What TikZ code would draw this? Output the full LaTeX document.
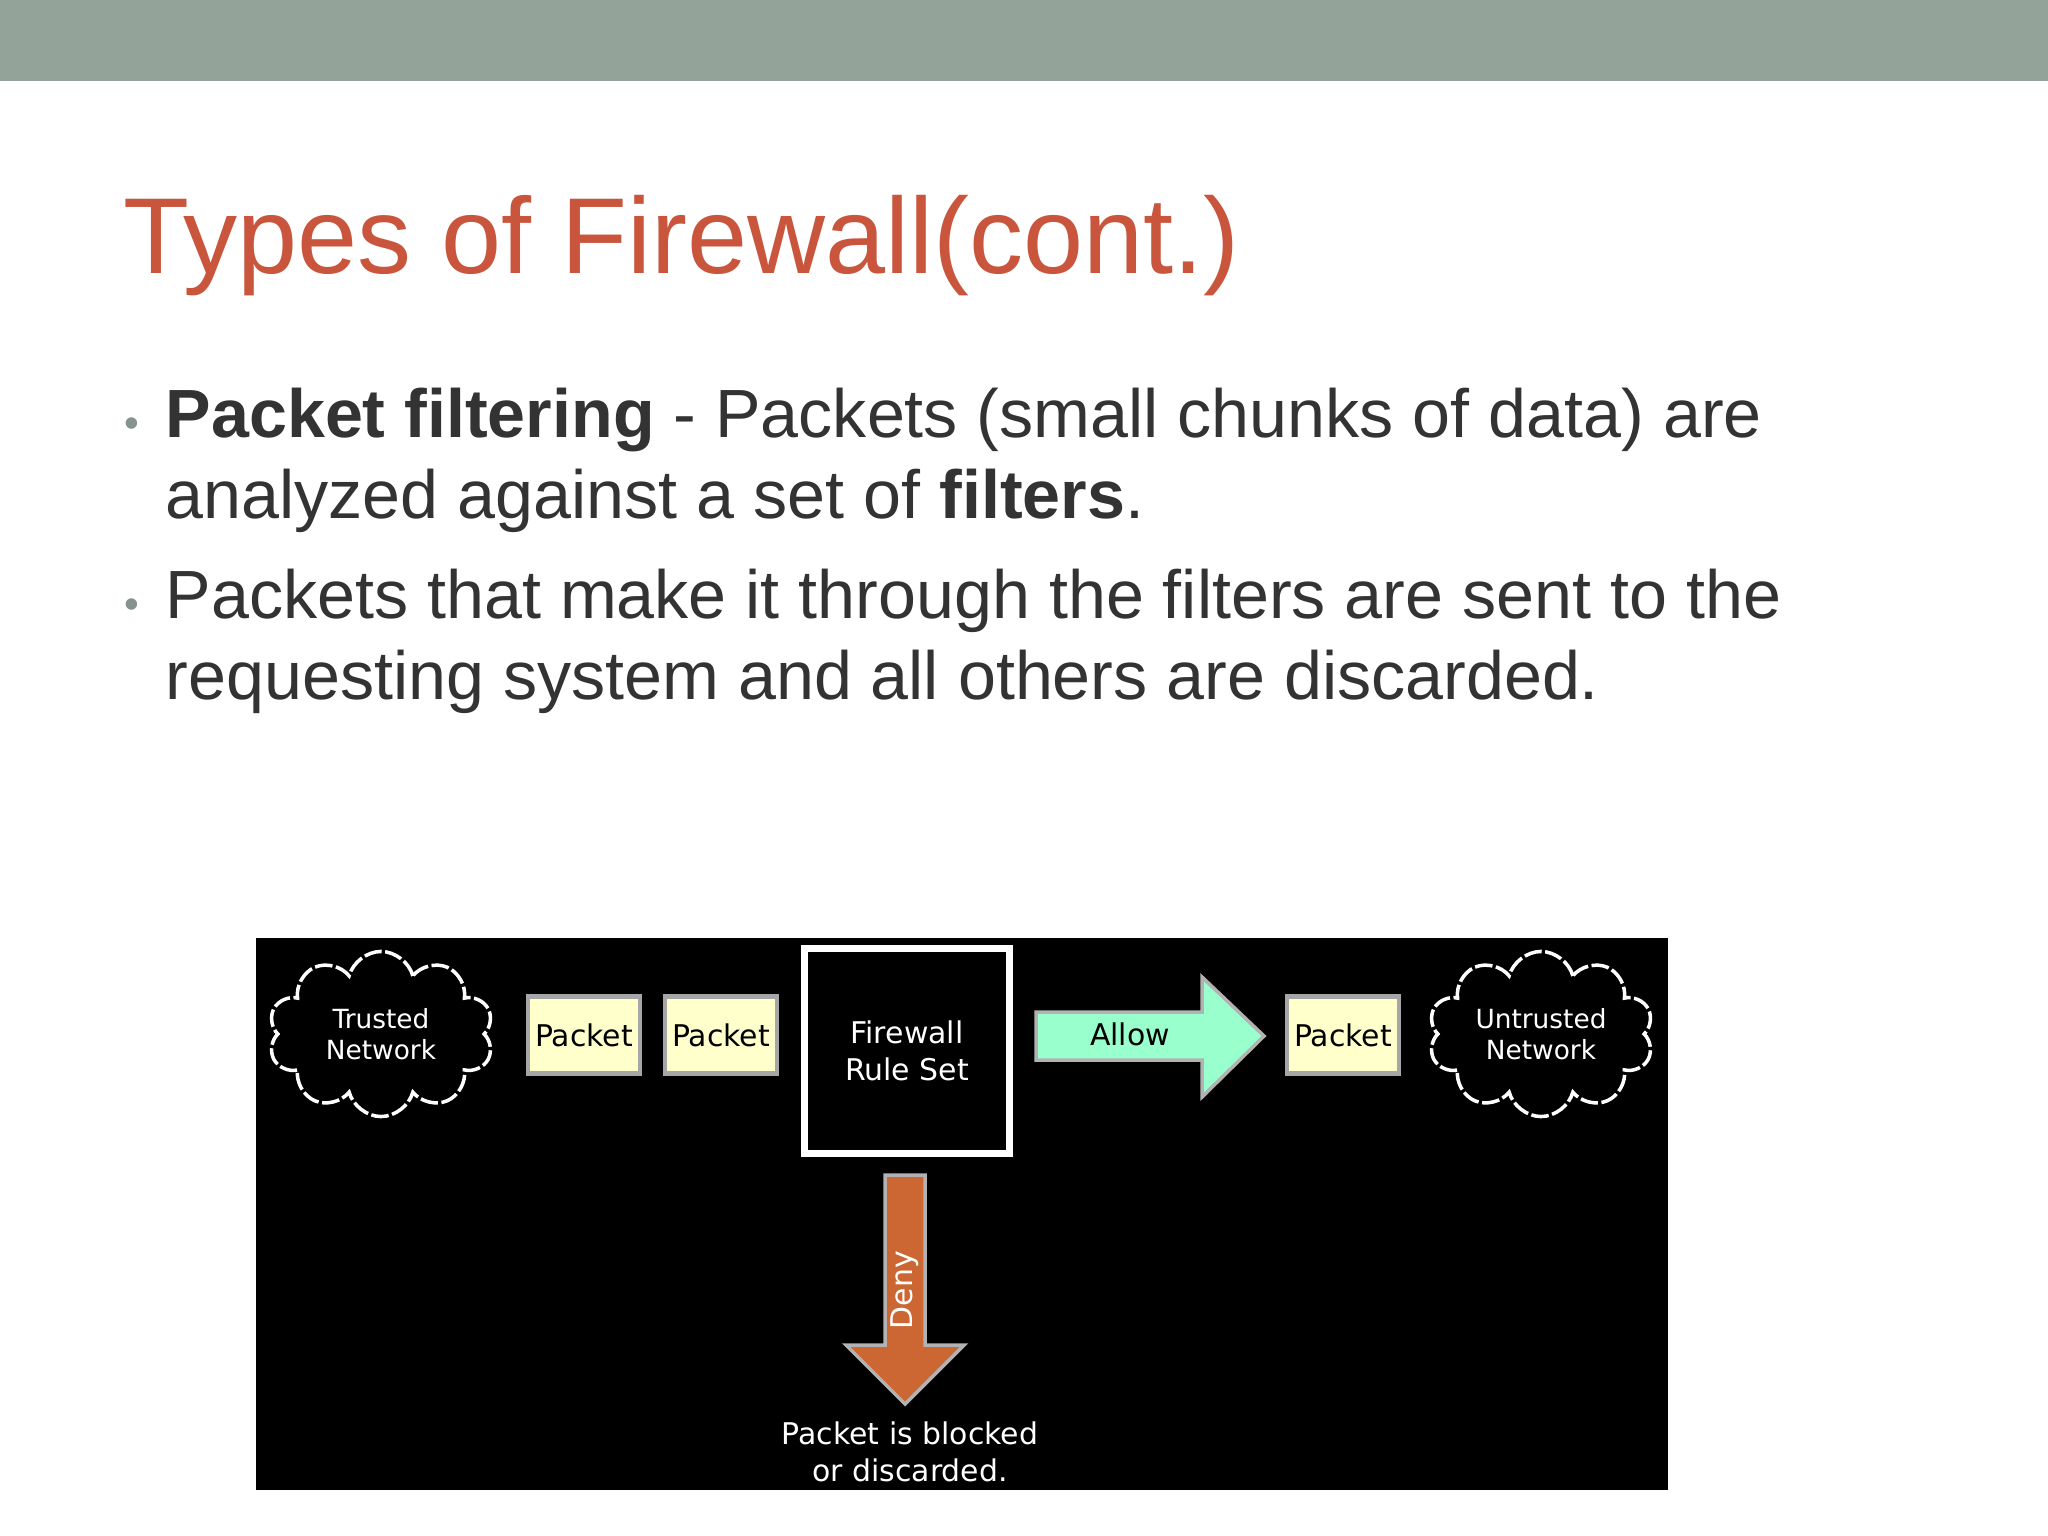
\documentclass[tikz,border=0pt]{standalone}
\usepackage{fontspec}
\setmainfont{Liberation Sans}
\newfontfamily\djfont{DejaVu Sans}
\usetikzlibrary{shapes.symbols}
\definecolor{barc}{HTML}{93A39A}
\definecolor{titlec}{HTML}{C9553D}
\definecolor{txt}{HTML}{333333}
\definecolor{pk}{HTML}{FFFFCC}
\definecolor{mint}{HTML}{99FFCC}
\definecolor{deny}{HTML}{CC6633}
\tikzset{
  pkt/.style={draw=gray!70,line width=1.2pt,fill=pk,minimum width=1.12cm,minimum height=0.77cm,inner sep=0pt,font=\djfont\fontsize{8.5}{10}\selectfont,text=black},
  cld/.style={cloud,cloud puffs=10,aspect=1.25,draw=white,dash pattern=on 5pt off 1pt,line width=1pt,minimum width=2.25cm,minimum height=1.65cm},
  cldtxt/.style={text=white,align=center,font=\djfont\fontsize{7.5}{9}\selectfont},
  wtxt/.style={text=white,align=center,font=\djfont\fontsize{8.5}{10.5}\selectfont},
  bul/.style={anchor=base west,text=txt,font=\fontsize{19.4}{23}\selectfont,inner sep=0pt}
}
\begin{document}
\begin{tikzpicture}[x=0.01cm,y=-0.01cm]
\useasboundingbox (0,0) rectangle (2048,1536);
\fill[white] (0,0) rectangle (2048,1536);
\fill[barc] (0,0) rectangle (2048,81);
\node[anchor=base west,inner sep=0pt,text=titlec,font=\fontsize{30.7}{36}\selectfont] (title) at (123,273) {Types of Firewall(cont.)};
\node[bul,text=barc!90!black] (b1) at (124,437) {\fontsize{12}{12}\selectfont•};
\node[bul] (l1) at (165,437) {\textbf{Packet filtering} - Packets (small chunks of data) are};
\node[bul] (l2) at (165,518) {analyzed against a set of \textbf{filters}.};
\node[bul,text=barc!90!black] (b2) at (124,618) {\fontsize{12}{12}\selectfont•};
\node[bul] (l3) at (165,618) {Packets that make it through the filters are sent to the};
\node[bul] (l4) at (165,699) {requesting system and all others are discarded.};
% diagram
\fill[black] (256,938) rectangle (1668,1490);
\node[cld] (trusted) at (381,1034) {};
\node[cldtxt] (trustedl) at (trusted) {Trusted\\Network};
\node[cld] (untrusted) at (1541,1034) {};
\node[cldtxt] (untrustedl) at (untrusted) {Untrusted\\Network};
\node[pkt] (p1) at (584,1035) {Packet};
\node[pkt] (p2) at (721,1035) {Packet};
\node[draw=white,line width=2pt,minimum width=2.05cm,minimum height=2.05cm,wtxt] (fw) at (907,1051) {Firewall\\Rule Set};
\node[pkt] (p3) at (1343,1035) {Packet};
\fill[mint,draw=gray!60,line width=1pt] (1036,1012) -- (1202,1012) -- (1202,977) -- (1264,1036) -- (1202,1097) -- (1202,1060) -- (1036,1060) -- cycle;
\node[font=\djfont\fontsize{8.5}{10}\selectfont] (allow) at (1130,1034) {Allow};
\fill[deny,draw=gray!60,line width=1pt] (885,1175) -- (925,1175) -- (925,1345) -- (964,1345) -- (905,1404) -- (846,1345) -- (885,1345) -- cycle;
\node[wtxt,rotate=90] (denyl) at (905,1290) {Deny};
\node[wtxt] (blk) at (910,1452) {Packet is blocked\\or discarded.};
\end{tikzpicture}
\end{document}
